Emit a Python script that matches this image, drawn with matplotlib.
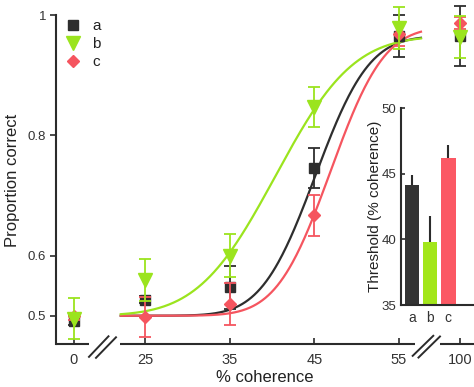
import math
import numpy as np
import matplotlib
matplotlib.use("Agg")
import matplotlib.pyplot as plt
from matplotlib.lines import Line2D

plt.rcParams['font.family'] = ['Liberation Sans', 'DejaVu Sans']

# ---------------- data ----------------
coherence = [0, 25, 35, 45, 55, 100]
series_names = ['a', 'b', 'c']
a_mean = [0.492, 0.527, 0.547, 0.746, 0.965, 0.965]
a_err = [0.008, 0.006, 0.035, 0.033, 0.035, 0.050]
b_mean = [0.495, 0.560, 0.600, 0.847, 0.978, 0.963]
b_err = [0.034, 0.035, 0.036, 0.033, 0.035, 0.035]
c_mean = [0.499, 0.498, 0.520, 0.667, 0.968, 0.987]
c_err = [0.006, 0.033, 0.035, 0.034, 0.020, 0.010]

# psychometric fit parameters (mu, sigma, lapse) per series
fit_mu = [45.1, 40.4, 46.9]
fit_sigma = [5.0, 7.2, 5.0]
fit_lapse = [0.035, 0.035, 0.02]
fit_range = [22.1, 57.6]

# thresholds (inset)
thr_mean = [44.1, 39.8, 46.2]
thr_err = [0.8, 2.0, 1.0]

x_ticks = [0, 25, 35, 45, 55, 100]
y_ticks = [0.5, 0.6, 0.8, 1.0]
y_ticklabels = ['0.5', '0.6', '0.8', '1']

colors = ['#2e2e2e', '#9be41e', '#f5555f']
bar_colors = ['#333333', '#a2e61a', '#fb5864']
markers = ['s', 'v', 'D']
msizes = [6.5, 10, 6.5]

# ---------------- layout ----------------
POS0 = 16.57     # plotting position of 0% coherence
POS100 = 62.21   # plotting position of 100% coherence


def xpos(c):
    c = np.asarray(c, dtype=float)
    return np.where(c < 10, POS0 + c, np.where(c > 80, POS100 + (c - 100), c))


fig = plt.figure(figsize=(4.74, 3.87), dpi=100)
ax = fig.add_axes([0.1181, 0.1103, 0.8819, 0.8509])
ax.set_xlim(14.44, 63.87)
ymin = 0.4525
ax.set_ylim(ymin, 1.0)

dark = '#2b2b2b'
for s in ['top', 'right', 'bottom']:
    ax.spines[s].set_visible(False)
ax.spines['left'].set_linewidth(1.5)
ax.spines['left'].set_color(dark)

# broken bottom axis segments
segs = [(14.44, 18.34), (22.0, 56.9), (59.8, 63.87)]
for x0, x1 in segs:
    ax.plot([x0, x1], [ymin, ymin], color=dark, lw=1.5, clip_on=False,
            solid_capstyle='butt', zorder=5)


def px2data(px, py):
    return 25 + (px - 145.3) / 8.457, 0.5 - (py - 315) / 600.0


for (p0, p1) in [((89, 356), (108.5, 335.5)), ((96, 357), (116, 336.5)),
                 ((412.7, 355), (433.3, 335)), ((418.5, 356.7), (440, 335.7))]:
    d0 = px2data(*p0)
    d1 = px2data(*p1)
    ax.plot([d0[0], d1[0]], [d0[1], d1[1]], color=dark, lw=1.4, clip_on=False)

# fitted curves
erf = np.vectorize(math.erf)
xc = np.linspace(fit_range[0], fit_range[1], 300)
for i in [0, 2, 1]:
    z = (xc - fit_mu[i]) / (fit_sigma[i] * math.sqrt(2))
    p = 0.5 + (0.5 - fit_lapse[i]) * 0.5 * (1 + erf(z))
    ax.plot(xpos(xc), p, color=colors[i], lw=1.6, zorder=3)

# data points (drawn a, c, b so that b is on top)
means = [a_mean, b_mean, c_mean]
errs = [a_err, b_err, c_err]
for k, i in enumerate([0, 2, 1]):
    eb = ax.errorbar(xpos(coherence), means[i], yerr=errs[i], fmt=markers[i],
                     color=colors[i], ms=msizes[i], mec=colors[i],
                     elinewidth=1.3, capsize=4, capthick=1.3, clip_on=False,
                     zorder=4 + k * 0.1, label=series_names[i])
    for art in list(eb.lines[1]) + list(eb.lines[2]):
        art.set_clip_on(False)
        art.set_zorder(4 + k * 0.1)

# legend
leg_handles = [Line2D([], [], ls='none', marker=markers[i], color=colors[i],
                      ms=msizes[i]) for i in range(3)]
leg = ax.legend(leg_handles, series_names, loc='upper left',
                bbox_to_anchor=(0.0, 1.015), frameon=False, fontsize=11,
                handlelength=1.0, handletextpad=0.75, labelspacing=0.25,
                borderaxespad=0.2)
for t in leg.get_texts():
    t.set_color('#222222')

ax.set_xticks(xpos(x_ticks))
ax.set_xticklabels([str(t) for t in x_ticks])
ax.set_yticks(y_ticks)
ax.set_yticklabels(y_ticklabels)
ax.tick_params(axis='x', direction='in', length=4, width=1.2, colors=dark,
               labelsize=10.5, pad=6, labelcolor='#333333')
ax.tick_params(axis='y', direction='out', length=4, width=1.2, colors=dark,
               labelsize=9.5, pad=3, labelcolor='#333333')

fig.text(265 / 474, 1 - 378 / 387, '% coherence', ha='center', va='center',
         fontsize=12, color='#222222')
fig.text(13 / 474, 1 - 180 / 387, 'Proportion correct', ha='center',
         va='center', rotation=90, fontsize=12, color='#222222')

# ---------------- inset ----------------
ins = fig.add_axes([400.7 / 474, 1 - 305 / 387, (473 - 400.7) / 474,
                    (305 - 108) / 387])
ins.patch.set_visible(False)
bx = np.arange(len(series_names))
ins.bar(bx, np.array(thr_mean) - 35, bottom=35, width=0.81, color=bar_colors,
        zorder=2)
ins.errorbar(bx, thr_mean, yerr=[np.zeros(3), thr_err], fmt='none',
             ecolor=dark, elinewidth=1.5, capsize=0, zorder=3)
ins.set_xlim(-0.62, 3.36)
ins.set_ylim(35, 50)
ins.set_yticks([35, 40, 45, 50])
ins.set_xticks(bx)
ins.set_xticklabels(series_names)
for s in ['top', 'right']:
    ins.spines[s].set_visible(False)
for s in ['left', 'bottom']:
    ins.spines[s].set_linewidth(1.5)
    ins.spines[s].set_color(dark)
ins.tick_params(axis='y', direction='in', length=3, width=1.2, colors=dark,
                labelsize=9.5, pad=3, labelcolor='#333333')
ins.tick_params(axis='x', length=0, labelsize=10, pad=4, labelcolor='#333333')
ins.set_ylabel('Threshold (% coherence)', fontsize=11, color='#222222',
               labelpad=0)

fig.savefig('out.png', dpi=100)
